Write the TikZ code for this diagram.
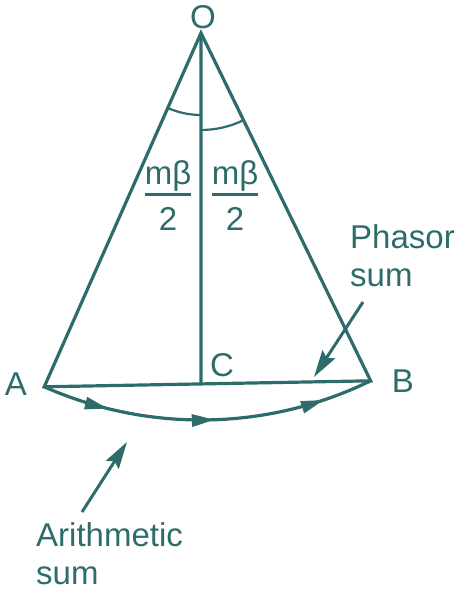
\documentclass[tikz,border=0pt]{standalone}
\usepackage{fontspec}
\setmainfont{Liberation Sans}
\usetikzlibrary{calc}
\usetikzlibrary{arrows.meta,decorations.markings}
\definecolor{phasorteal}{RGB}{45,108,106}
\newcommand\halfangle{{\setlength\arrayrulewidth{3pt}\begin{tabular}{@{}c@{}}mβ\\[-4pt]\hline\rule{0pt}{35pt}2\end{tabular}}}
\tikzset{
	side/.style={draw=phasorteal,line width=3.2pt},
	anglemark/.style={draw=phasorteal,line width=2.2pt},
	lbl/.style={text=phasorteal,font=\fontsize{33}{40}\selectfont,inner sep=0pt},
	legend/.style={lbl,align=left,anchor=north west,font=\fontsize{33}{38}\selectfont},
	pointer/.style={draw=phasorteal,line width=3pt,-{Stealth[length=27pt,width=15pt,inset=4pt]}},
	flow/.style={postaction={decorate},decoration={markings,
			mark=at position .2 with {\arrow[phasorteal]{Triangle[length=23pt,width=12pt]}},
			mark=at position .52 with {\arrow[phasorteal]{Triangle[length=23pt,width=12pt]}},
			mark=at position .85 with {\arrow[phasorteal]{Triangle[length=23pt,width=12pt]}}}},
}
\begin{document}
\begin{tikzpicture}[x=1pt,y=1pt]
		\useasboundingbox (0,0) rectangle (470,589);
		\coordinate (O) at (201,556);
		\coordinate (A) at ($(O)+(246.1:387)$);
		\coordinate (B) at ($(O)+(296:387)$);
		\coordinate (C) at ($(A)!.48!(B)$);
		\draw[side] (A) -- (O) -- (B) -- cycle;
		\draw[side] (O) -- (C);
		\draw[side,flow] (A) arc (246.1:296:387);
		% the two half angles at O
		\draw[anglemark] ($(O)+(246.1:82)$) arc (246.1:270:82);
		\draw[anglemark] ($(O)+(270:97)$) arc (270:296:97);
		\node[lbl] (fracl) at (168,389) {\halfangle};
		\node[lbl] (fracr) at (235,389) {\halfangle};
		\node[lbl] (lo) at (203,572) {O};
		\node[lbl] (la) at (16,205) {A};
		\node[lbl] (lb) at (403,208) {B};
		\node[lbl] (lc) at (222,224) {C};
		% labels with pointers
		\node[legend] (phasor) at (350,365) {Phasor\\sum};
		\node[legend] (arith) at (36,67) {Arithmetic\\sum};
		\coordinate (ps) at (363,287);
		\coordinate (pe) at (314,212);
		\coordinate (as) at (82,77);
		\coordinate (ae) at (127,147);
		\draw[pointer] (ps) -- (pe);
		\draw[pointer] (as) -- (ae);
	\end{tikzpicture}
\end{document}
